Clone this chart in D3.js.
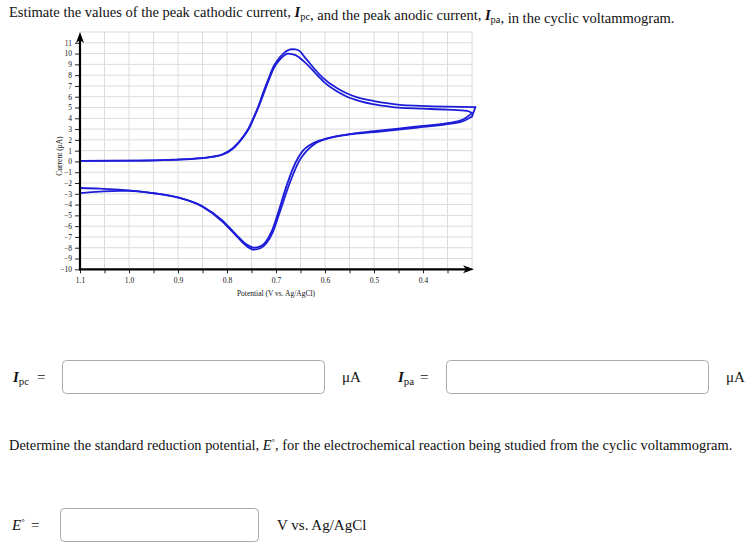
<!DOCTYPE html>
<html>
<head>
<meta charset="utf-8">
<script src="https://cdn.jsdelivr.net/npm/d3@7"></script>
<style>
  body { margin: 0; background: #fff; }
  svg text, svg tspan { font-family: "Liberation Serif", "Times New Roman", serif; fill: #111; }
</style>
</head>
<body>
<div id="chart"></div>
<script>
// tick labels
const xTickLabels = [1.1, 1.0, 0.9, 0.8, 0.7, 0.6, 0.5, 0.4];
const yTickLabels = [-10, -9, -8, -7, -6, -5, -4, -3, -2, -1, 0, 1, 2, 3, 4, 5, 6, 7, 8, 9, 10, 11];

// cycle 1 : [potential (V), current (uA)]
const cycle1Lower = [
  [1.10, -2.93], [1.06, -2.80], [1.02, -2.72], [1.00, -2.72], [0.95, -2.95],
  [0.90, -3.35], [0.85, -4.20], [0.81, -5.55], [0.78, -6.95], [0.76, -7.85],
  [0.745, -8.18], [0.732, -8.05], [0.72, -7.60], [0.706, -6.50], [0.693, -4.80],
  [0.672, -2.00], [0.652, 0.10], [0.637, 1.00], [0.622, 1.60], [0.60, 2.05],
  [0.57, 2.40], [0.54, 2.60], [0.50, 2.80], [0.45, 3.05], [0.40, 3.30],
  [0.35, 3.55], [0.32, 3.85], [0.30, 4.48]
];
const cycle1Upper = [
  [0.30, 4.48], [0.31, 4.68], [0.35, 4.80], [0.40, 4.89], [0.45, 4.98],
  [0.474, 5.12], [0.50, 5.30], [0.529, 5.60], [0.555, 6.00], [0.576, 6.50],
  [0.603, 7.40], [0.62, 8.20], [0.631, 8.75], [0.645, 9.35], [0.66, 9.85],
  [0.675, 10.00], [0.69, 9.55], [0.705, 8.60], [0.715, 7.50], [0.726, 6.20],
  [0.736, 5.00], [0.746, 3.95], [0.757, 2.90], [0.767, 2.25], [0.787, 1.22],
  [0.808, 0.64], [0.83, 0.42], [0.855, 0.28], [0.91, 0.15], [0.98, 0.07], [1.10, 0.05]
];

// cycle 2
const cycle2Lower = [
  [1.10, -2.46], [1.06, -2.52], [1.02, -2.62], [1.00, -2.68], [0.95, -2.93],
  [0.90, -3.33], [0.85, -4.15], [0.81, -5.45], [0.78, -6.85], [0.76, -7.70],
  [0.745, -8.00], [0.732, -7.88], [0.72, -7.40], [0.708, -6.40], [0.696, -4.80],
  [0.678, -2.20], [0.66, -0.10], [0.645, 1.00], [0.63, 1.55], [0.61, 1.95],
  [0.58, 2.30], [0.55, 2.50], [0.50, 2.72], [0.45, 2.95], [0.40, 3.20],
  [0.35, 3.45], [0.32, 3.70], [0.30, 4.17]
];
const cycle2Upper = [
  [0.293, 5.04], [0.35, 5.08], [0.406, 5.16], [0.447, 5.25],
  [0.474, 5.40], [0.50, 5.60], [0.529, 5.87], [0.555, 6.30], [0.576, 6.80],
  [0.603, 7.70], [0.62, 8.50], [0.631, 9.10], [0.642, 9.70], [0.651, 10.20],
  [0.66, 10.38], [0.668, 10.40], [0.678, 10.25], [0.685, 10.00], [0.695, 9.50],
  [0.705, 8.80], [0.715, 7.70], [0.726, 6.40], [0.736, 5.10], [0.746, 4.05],
  [0.757, 2.98], [0.767, 2.30], [0.787, 1.27], [0.808, 0.68], [0.83, 0.44],
  [0.855, 0.30], [0.91, 0.17], [0.98, 0.08], [1.10, 0.06]
];

const W = 747, H = 554;
const svg = d3.select("#chart").append("svg")
  .attr("width", W).attr("height", H)
  .attr("font-family", "Liberation Serif");

// fit a text group to a measured width from the screenshot
function fitWidth(g, x, y, target) {
  const w = g.node().getBBox().width;
  g.attr("transform", `translate(${x},${y}) scale(${target / w},1)`);
}

// question text with italic bold I and subscript
function richText(parent, parts, size) {
  const t = parent.append("text").attr("font-size", size);
  parts.forEach(p => {
    if (typeof p === "string") {
      t.append("tspan").text(p);
    } else {
      t.append("tspan").attr("font-style", "italic").attr("font-weight", "bold").text(p.sym);
      t.append("tspan").attr("font-size", size * 0.72).attr("dy", 3).text(p.sub);
      t.append("tspan").attr("dy", -3).text("");
    }
  });
  return t;
}

const title = svg.append("g");
richText(title, ["Estimate the values of the peak cathodic current, ", {sym: "I", sub: "pc"},
  ", and the peak anodic current, ", {sym: "I", sub: "pa"}, ", in the cyclic voltammogram."], 15);
fitWidth(title, 9, 17, 666);

// ---- chart ----
const x = d3.scaleLinear().domain([1.1, 0.3]).range([80, 472]);
const y = d3.scaleLinear().domain([-10, 12]).range([269.3, 32]);

const plot = svg.append("g");

// grid
plot.append("g").selectAll("line")
  .data(d3.range(-10, 13))
  .join("line")
  .attr("x1", x(1.1)).attr("x2", x(0.3))
  .attr("y1", d => y(d)).attr("y2", d => y(d))
  .attr("stroke", "#dcdcdc").attr("stroke-width", 1);

plot.append("g").selectAll("line")
  .data(d3.range(0, 17).map(i => 1.1 - i * 0.05))
  .join("line")
  .attr("x1", d => x(d)).attr("x2", d => x(d))
  .attr("y1", y(-10)).attr("y2", y(12))
  .attr("stroke", "#dcdcdc").attr("stroke-width", 1);

// curves: each sweep is monotone in potential
const line = d3.line()
  .x(d => x(d[0])).y(d => y(d[1]))
  .curve(d3.curveMonotoneX);
const straight = d3.line()
  .x(d => x(d[0])).y(d => y(d[1]));

const paths = [
  line(cycle1Lower), line(cycle1Upper),
  line(cycle2Lower), line(cycle2Upper),
  // switching point of cycle 2
  straight([cycle2Lower[cycle2Lower.length - 1], cycle2Upper[0]])
];
paths.forEach(d => {
  plot.append("path")
    .attr("d", d)
    .attr("fill", "none")
    .attr("stroke", "#1c1cd9")
    .attr("stroke-width", 1.8)
    .attr("stroke-linejoin", "round")
    .attr("stroke-linecap", "round");
});

// axes
const xAxis = d3.axisBottom(x)
  .tickValues(d3.range(0, 16).map(i => 1.1 - i * 0.05))
  .tickSize(4)
  .tickFormat(d => {
    const hit = xTickLabels.find(v => Math.abs(v - d) < 1e-6);
    return hit !== undefined ? hit.toFixed(1) : "";
  });

const gx = plot.append("g")
  .attr("transform", `translate(0,${y(-10)})`)
  .call(xAxis);
gx.attr("font-family", "Liberation Serif");
gx.select(".domain").remove();
gx.selectAll(".tick line").attr("stroke", "#222");
gx.selectAll(".tick text")
  .attr("font-size", 7.5).attr("fill", "#222").attr("dy", "0.85em");

const yAxis = d3.axisLeft(y)
  .tickValues(yTickLabels)
  .tickSize(5)
  .tickFormat(d3.format("d"));

const gy = plot.append("g")
  .attr("transform", `translate(${x(1.1)},0)`)
  .call(yAxis);
gy.attr("font-family", "Liberation Serif");
gy.select(".domain").remove();
gy.selectAll(".tick line").attr("stroke", "#222");
gy.selectAll(".tick text")
  .attr("font-size", 7.5).attr("fill", "#222");

// axis lines with arrow heads
plot.append("line")
  .attr("x1", x(1.1)).attr("x2", x(1.1))
  .attr("y1", y(-10) + 1).attr("y2", y(12) + 6)
  .attr("stroke", "#000").attr("stroke-width", 2.2);
plot.append("path")
  .attr("d", `M${x(1.1)},${y(12)} l-4,11 l4,-3 l4,3 z`)
  .attr("fill", "#000");

plot.append("line")
  .attr("x1", x(1.1) - 1).attr("x2", x(0.3) - 6)
  .attr("y1", y(-10)).attr("y2", y(-10))
  .attr("stroke", "#000").attr("stroke-width", 2.2);
plot.append("path")
  .attr("d", `M${x(0.3) + 2},${y(-10)} l-11,-4 l3,4 l-3,4 z`)
  .attr("fill", "#000");

// axis titles
plot.append("text")
  .attr("transform", `translate(62,${y(0.5)}) rotate(-90)`)
  .attr("text-anchor", "middle")
  .attr("font-size", 7.5).attr("fill", "#222")
  .text("Current (\u03bcA)");

plot.append("text")
  .attr("x", x(0.7)).attr("y", y(-10) + 27)
  .attr("text-anchor", "middle")
  .attr("font-size", 7.5).attr("fill", "#222")
  .text("Potential (V vs. Ag/AgCl)");

// ---- answer fields ----
function inputBox(x0, y0, w, h) {
  svg.append("rect")
    .attr("x", x0 + 0.5).attr("y", y0 + 0.5)
    .attr("width", w).attr("height", h)
    .attr("rx", 4)
    .attr("fill", "#fff").attr("stroke", "#a9a9a9").attr("stroke-width", 1);
}

const rowY = 382;
richText(svg.append("g").attr("transform", `translate(13,${rowY})`), [{sym: "I", sub: "pc"}], 15);
svg.append("text").attr("x", 37).attr("y", rowY).attr("font-size", 15).text("=");
inputBox(62, 360, 262, 33);
svg.append("text").attr("x", 342).attr("y", rowY).attr("font-size", 15).text("\u03bcA");
richText(svg.append("g").attr("transform", `translate(398,${rowY})`), [{sym: "I", sub: "pa"}], 15);
svg.append("text").attr("x", 420).attr("y", rowY).attr("font-size", 15).text("=");
inputBox(446, 360, 262, 33);
svg.append("text").attr("x", 726).attr("y", rowY).attr("font-size", 15).text("\u03bcA");

const q2 = svg.append("g");
q2.append("text").attr("font-size", 15)
  .call(t => {
    t.append("tspan").text("Determine the standard reduction potential, ");
    t.append("tspan").attr("font-style", "italic").text("E");
    t.append("tspan").attr("font-size", 9).attr("dy", -5).text("\u00b0");
    t.append("tspan").attr("dy", 5).text(", for the electrochemical reaction being studied from the cyclic voltammogram.");
  });
fitWidth(q2, 9, 450, 724);

const eRow = 530;
svg.append("text").attr("x", 12).attr("y", eRow).attr("font-size", 15)
  .call(t => {
    t.append("tspan").attr("font-style", "italic").text("E");
    t.append("tspan").attr("font-size", 9).attr("dy", -5).text("\u00b0");
  });
svg.append("text").attr("x", 31).attr("y", eRow).attr("font-size", 15).text("=");
inputBox(60, 508, 198, 33);
svg.append("text").attr("x", 277).attr("y", eRow).attr("font-size", 15).text("V vs. Ag/AgCl");
</script>
</body>
</html>
